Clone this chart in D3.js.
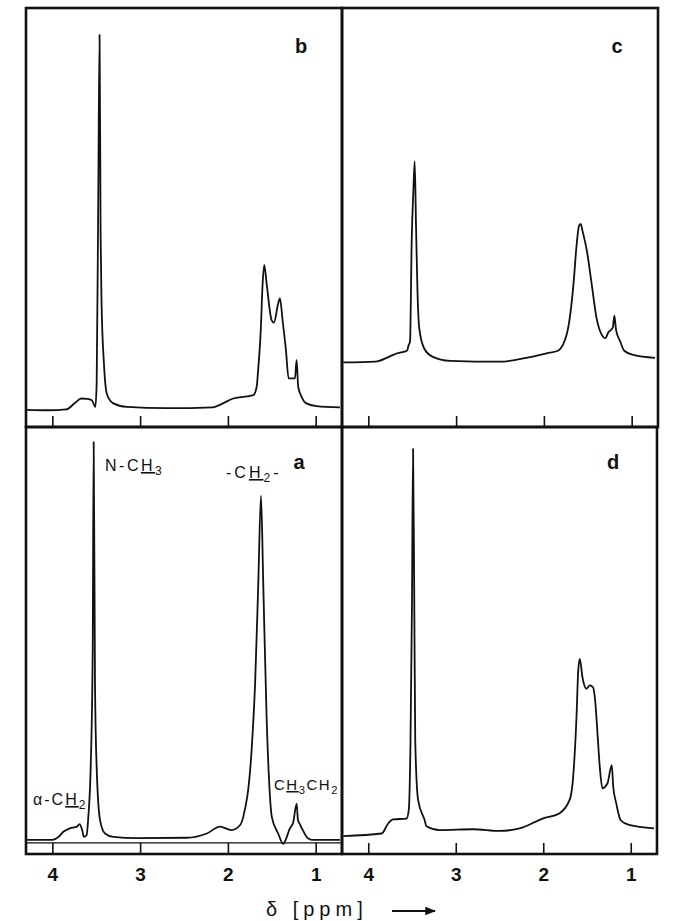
<!DOCTYPE html>
<html>
<head>
<meta charset="utf-8">
<script src="https://d3js.org/d3.v7.min.js"></script>
<style>
 body {margin: 0; background: #fff;}
 svg {display: block;}
 text {font-family: "Liberation Sans", "DejaVu Sans", sans-serif; fill: #111;}
</style>
<title>NMR spectra a-d</title>
</head>
<body>
<div id="contenedor"></div>
<script>
// chemical shift ticks (ppm)
var ppmTicks = [4, 3, 2, 1];

// spectra: [ppm, intensity in % of panel height]
var spectrumB = [
 [4.29, 4.1], [4.05, 4.0], [3.84, 4.2], [3.74, 5.8], [3.67, 6.8], [3.60, 6.7], [3.55, 6.4], [3.51, 4.8],
 [3.495, 10.4], [3.477, 54], [3.462, 93.6], [3.45, 46], [3.44, 30.3], [3.41, 14.4], [3.38, 8.0],
 [3.31, 5.7], [3.15, 4.8], [2.70, 4.5], [2.17, 4.7], [2.09, 5.3], [1.94, 6.8], [1.71, 7.6],
 [1.672, 9.6], [1.654, 14], [1.627, 22.4], [1.604, 34.3], [1.586, 38.7], [1.559, 34.3],
 [1.502, 25.5], [1.476, 24.9], [1.427, 29.5], [1.407, 30.7], [1.377, 25.5], [1.339, 18.4],
 [1.308, 11.6], [1.236, 11.6], [1.217, 16.0], [1.199, 9.6], [1.16, 7.2], [1.111, 5.7],
 [0.99, 5.0], [0.724, 4.7]
];

var spectrumA = [
 [4.31, 3.3], [4.0, 3.3], [3.93, 4.0], [3.875, 5.2], [3.80, 6.0], [3.72, 6.4], [3.69, 7.0],
 [3.66, 5.6], [3.64, 4.0], [3.61, 4.4], [3.59, 8.7], [3.563, 20.4], [3.54, 47.7], [3.529, 96.5],
 [3.514, 40], [3.495, 20.4], [3.457, 8.0], [3.40, 4.8], [3.305, 4.0], [3.04, 3.7], [2.47, 3.8],
 [2.24, 4.8], [2.09, 6.4], [1.96, 5.6], [1.86, 6.8], [1.825, 8.7], [1.73, 24.3], [1.69, 39.9],
 [1.654, 63.2], [1.623, 83.9], [1.597, 63.2], [1.559, 32.1], [1.529, 16.5], [1.50, 8.7],
 [1.427, 4.8], [1.37, 2.4], [1.293, 6.0], [1.256, 7.4], [1.217, 11.8], [1.202, 8.0],
 [1.18, 7.0], [1.142, 5.4], [1.088, 3.7], [1.028, 3.3], [0.724, 3.3]
];

var spectrumC = [
 [4.285, 15.4], [3.92, 15.6], [3.76, 16.8], [3.67, 17.6], [3.56, 18.2], [3.54, 19.6],
 [3.525, 20.4], [3.506, 44.4], [3.487, 56.4], [3.472, 63.4], [3.457, 48.4], [3.44, 32.4],
 [3.42, 23.6], [3.365, 18.8], [3.27, 16.8], [3.07, 15.8], [2.50, 15.6], [2.20, 16.5],
 [1.97, 17.6], [1.84, 18.2], [1.741, 22.0], [1.70, 26.8], [1.66, 34.8], [1.63, 42.8],
 [1.60, 48.0], [1.581, 48.5], [1.56, 46.8], [1.51, 42.0], [1.46, 34.8], [1.40, 26.0],
 [1.34, 22.0], [1.30, 21.2], [1.265, 22.6], [1.215, 23.7], [1.197, 26.6], [1.178, 23.2],
 [1.13, 20.4], [1.085, 18.2], [0.98, 17.2], [0.735, 16.5]
];

var spectrumD = [
 [4.285, 4.2], [3.848, 4.8], [3.77, 7.2], [3.716, 8.1], [3.563, 8.3], [3.537, 10.3],
 [3.517, 26.6], [3.50, 59.3], [3.488, 94.9], [3.474, 59.3], [3.463, 26.6], [3.43, 12.6],
 [3.355, 7.9], [3.335, 6.5], [3.184, 5.6], [2.80, 5.8], [2.50, 5.4], [2.27, 6.0],
 [2.007, 8.3], [1.817, 9.5], [1.70, 12.6], [1.665, 16.5], [1.62, 32.1], [1.60, 43.0],
 [1.582, 45.7], [1.552, 41.4], [1.506, 38.7], [1.468, 39.5], [1.43, 39.0], [1.407, 36.0],
 [1.38, 28.2], [1.354, 20.4], [1.324, 15.4], [1.267, 16.5], [1.217, 20.8], [1.20, 15.7],
 [1.165, 11.8], [1.115, 7.9], [1.02, 6.8], [0.735, 6.0]
];

// reference line drawn under spectrum a
var baseLineA = 2.6;

var width = 695, height = 921;
var svg = d3.select("#contenedor").append("svg")
  .attr("width", width).attr("height", height);

var panels = [
 {id: "b", data: spectrumB, x0: 26,  x1: 342, y0: 8,   y1: 427, bottom: false, lx: 301, ly: 53},
 {id: "c", data: spectrumC, x0: 342, x1: 658, y0: 8,   y1: 427, bottom: false, lx: 617, ly: 53},
 {id: "a", data: spectrumA, x0: 26,  x1: 342, y0: 427, y1: 854, bottom: true,  lx: 299, ly: 469},
 {id: "d", data: spectrumD, x0: 342, x1: 657, y0: 427, y1: 854, bottom: true,  lx: 613, ly: 469}
];

panels.forEach(function(p) {
  var x = d3.scaleLinear().domain([4.3, 0.7]).range([p.x0, p.x1]);
  var y = d3.scaleLinear().domain([0, 100]).range([p.y1, p.y0]);
  var g = svg.append("g");

  g.append("clipPath").attr("id", "clip-" + p.id)
    .append("rect").attr("x", p.x0).attr("y", p.y0)
    .attr("width", p.x1 - p.x0).attr("height", p.y1 - p.y0);

  if (p.id == "a") {
    g.append("line").attr("x1", p.x0).attr("x2", p.x1)
      .attr("y1", y(baseLineA)).attr("y2", y(baseLineA))
      .attr("stroke", "#111").attr("stroke-width", 1.4);
  }

  var line = d3.line()
    .x(function(d) { return x(d[0]); })
    .y(function(d) { return y(d[1]); })
    .curve(d3.curveMonotoneX);

  g.append("path").datum(p.data)
    .attr("clip-path", "url(#clip-" + p.id + ")")
    .attr("d", line)
    .attr("fill", "none").attr("stroke", "#111")
    .attr("stroke-width", 1.8).attr("stroke-linejoin", "round");

  var axis = d3.axisBottom(x).tickValues(ppmTicks).tickSize(-11)
    .tickPadding(14).tickFormat(p.bottom ? d3.format("d") : "");
  var ax = g.append("g").attr("transform", "translate(0," + p.y1 + ")").call(axis);
  ax.select(".domain").remove();
  ax.selectAll(".tick line").attr("stroke", "#111").attr("stroke-width", 1.6);
  ax.selectAll(".tick text").attr("font-size", 19).attr("font-weight", "bold")
    .attr("font-family", "Liberation Sans, sans-serif").attr("fill", "#111");

  g.append("rect").attr("x", p.x0).attr("y", p.y0)
    .attr("width", p.x1 - p.x0).attr("height", p.y1 - p.y0)
    .attr("fill", "none").attr("stroke", "#111").attr("stroke-width", 2.6);

  g.append("text").attr("x", p.lx).attr("y", p.ly)
    .attr("text-anchor", "middle").attr("font-size", 20).attr("font-weight", "bold")
    .text(p.id);
});

// peak assignments in spectrum a
function label(x, y, parts, size, spacing) {
  var t = svg.append("text").attr("x", x).attr("y", y)
    .attr("font-size", size).attr("letter-spacing", spacing);
  parts.forEach(function(s) {
    var ts = t.append("tspan").text(s.t);
    if (s.sub) ts.attr("font-size", size * 0.75).attr("dy", 4);
    if (s.up) ts.attr("dy", -4);
    if (s.u) ts.attr("text-decoration", "underline");
  });
}
label(105, 471, [{t: "N-C"}, {t: "H", u: true}, {t: "3", sub: true}], 16, 2.5);
label(226, 478, [{t: "-C"}, {t: "H", u: true}, {t: "2", sub: true}, {t: "-", up: true}], 16, 3);
label(33, 805, [{t: "α-C"}, {t: "H", u: true}, {t: "2", sub: true}], 16, 2);
label(274, 790, [{t: "C"}, {t: "H", u: true}, {t: "3", sub: true}, {t: "CH", up: true}, {t: "2", sub: true}], 15, 1.5);

// axis title
svg.append("text").attr("x", 266).attr("y", 916)
  .attr("font-size", 20).attr("letter-spacing", 5).text("δ [ppm]");
svg.append("defs").append("marker").attr("id", "arrow")
  .attr("viewBox", "0 0 10 10").attr("refX", 9).attr("refY", 5)
  .attr("markerWidth", 6).attr("markerHeight", 6).attr("orient", "auto")
  .append("path").attr("d", "M0,1L10,5L0,9Z").attr("fill", "#111");
svg.append("line").attr("x1", 392).attr("x2", 435).attr("y1", 911).attr("y2", 911)
  .attr("stroke", "#111").attr("stroke-width", 1.8).attr("marker-end", "url(#arrow)");
</script>
</body>
</html>
